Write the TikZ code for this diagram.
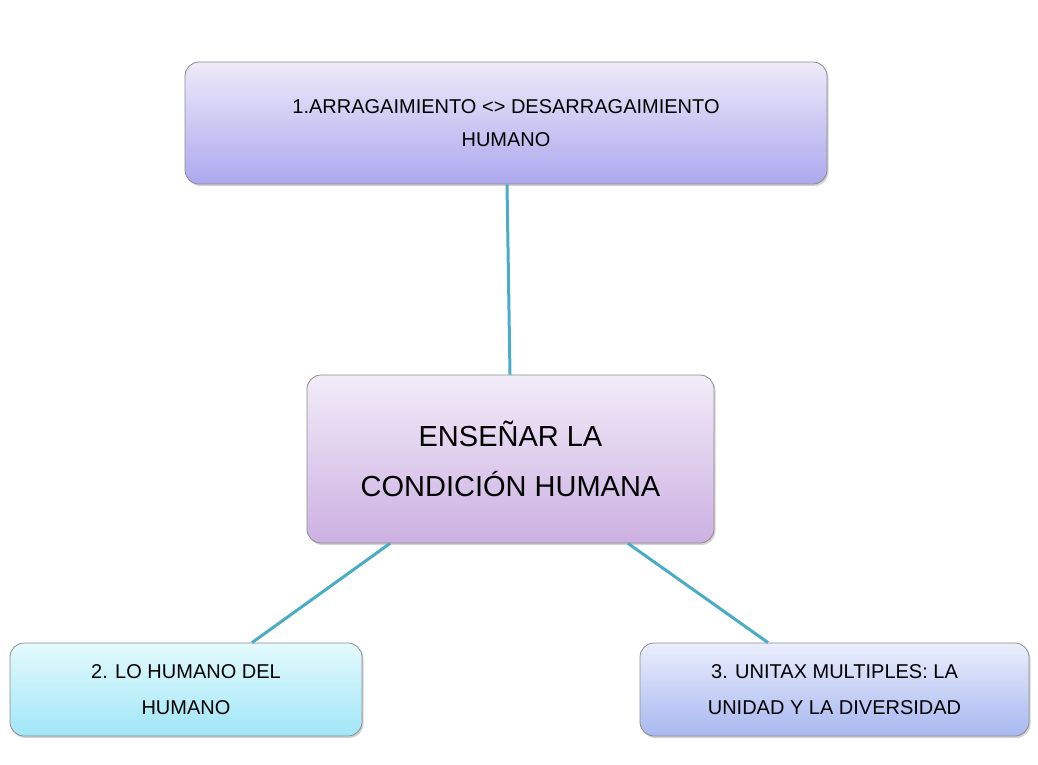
\documentclass[tikz,border=0pt]{standalone}
\usepackage{fontspec}
\setmainfont{Liberation Sans}
\usetikzlibrary{shadows}
\definecolor{lnk}{HTML}{4BACC6}
\definecolor{t1}{HTML}{EEEAF9}\definecolor{b1}{HTML}{ACA8EE}
\definecolor{t2}{HTML}{F2ECF8}\definecolor{b2}{HTML}{CCB0E2}
\definecolor{t3}{HTML}{E4FAFC}\definecolor{b3}{HTML}{A0E6F8}
\definecolor{t4}{HTML}{EAEEFC}\definecolor{b4}{HTML}{A8B8F0}
\tikzset{
  box/.style={draw=black!45, line width=0.8pt, rounded corners=14pt, align=center, inner sep=0pt,
    drop shadow={shadow xshift=1.5pt, shadow yshift=-2pt, opacity=0.35}},
  link/.style={draw=lnk, line width=3pt}
}
\begin{document}
\begin{tikzpicture}[x=1pt,y=-1pt]
\useasboundingbox (0,0) rectangle (1038,764);
\node[box, minimum width=642pt, minimum height=122pt, top color=t1, bottom color=b1, font=\fontsize{20}{33}\selectfont] (top) at (506,123) {1.ARRAGAIMIENTO <> DESARRAGAIMIENTO\\HUMANO};
\node[box, minimum width=407pt, minimum height=168pt, top color=t2, bottom color=b2, font=\fontsize{29}{50}\selectfont] (mid) at (510.5,459) {ENSEÑAR LA\\CONDICIÓN HUMANA};
\node[box, minimum width=352pt, minimum height=93pt, top color=t3, bottom color=b3, font=\fontsize{20}{36}\selectfont] (left) at (186,689.5) {2. LO HUMANO DEL\\HUMANO};
\node[box, minimum width=389pt, minimum height=93pt, top color=t4, bottom color=b4, font=\fontsize{20}{36}\selectfont] (right) at (834.5,689.5) {3. UNITAX MULTIPLES: LA\\UNIDAD Y LA DIVERSIDAD};
\draw[link] (top.south -| 507,0) -- (mid.north -| 510,0);
\draw[link] (mid.south -| 390,0) -- (left.north -| 252,0);
\draw[link] (mid.south -| 628,0) -- (right.north -| 768,0);
\end{tikzpicture}
\end{document}
